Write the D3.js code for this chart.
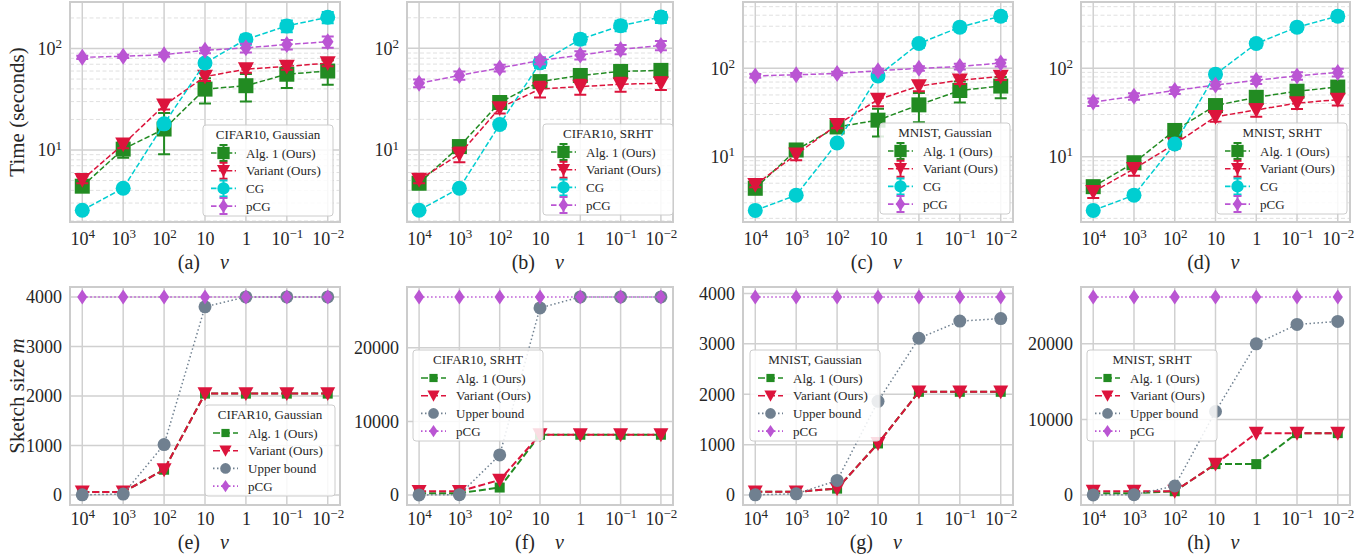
<!DOCTYPE html>
<html><head><meta charset="utf-8">
<script src="https://cdn.jsdelivr.net/npm/d3@7"></script>
<style>body{margin:0;background:#fff}svg{display:block}text{font-family:"Liberation Serif","Times New Roman",serif;fill:#262626}</style>
</head><body><svg id="c" width="1357" height="557"></svg>
<script>
// ---------- data ----------
const nuTickBase = ["10","10","10","10","1","10","10"];
const nuTickExp  = ["4","3","2","","","\u22121","\u22122"];
const timeNames   = ["Alg. 1 (Ours)","Variant (Ours)","CG","pCG"];
const sketchNames = ["Alg. 1 (Ours)","Variant (Ours)","Upper bound","pCG"];
const panelTitles = ["CIFAR10, Gaussian","CIFAR10, SRHT","MNIST, Gaussian","MNIST, SRHT"];
const capsTop = ["(a)","(b)","(c)","(d)"];
const capsBottom = ["(e)","(f)","(g)","(h)"];

// (a) CIFAR10, Gaussian - time (s)
const tA_alg1 = [4.4, 10.2, 16.1, 39.8, 43, 55.8, 60];
const tA_alg1Err = [0.5, 1.8, 7, 11, 13, 15, 16];
const tA_var = [5.1, 11.4, 27.5, 52.9, 62.6, 66.6, 71.9];
const tA_varErr = [0.4, 1.0, 2.5, 5, 5, 5, 5];
const tA_cg = [2.55, 4.2, 18.1, 72, 123, 167, 203];
const tA_cgErr = [0.1, 0.2, 1.5, 6, 14, 22, 26];
const tA_pcg = [81.9, 83.8, 87, 96, 101.5, 109.6, 116.6];
const tA_pcgErr = [3, 3, 4, 6, 10, 12, 15];
// (b) CIFAR10, SRHT
const tB_alg1 = [4.7, 10.8, 29.3, 47.1, 54.1, 59.3, 60.7];
const tB_alg1Err = [0.4, 1.0, 3, 5, 6, 6, 6];
const tB_var = [5.1, 9.05, 25.9, 39.8, 42, 44.3, 45.4];
const tB_varErr = [0.4, 1.5, 3, 7, 7, 7, 6.5];
const tB_cg = [2.55, 4.2, 17.8, 72, 123, 167, 203];
const tB_cgErr = [0.1, 0.2, 1.5, 8, 14, 20, 25];
const tB_pcg = [45.4, 54.1, 64.1, 75.9, 85.8, 97.7, 107];
const tB_pcgErr = [4, 5, 5, 6, 8, 10, 11];
// (c) MNIST, Gaussian
const tC_alg1 = [4.38, 11.9, 21.7, 25.9, 38.6, 56.1, 63];
const tC_alg1Err = [0.3, 1.2, 2.5, 9, 14, 15, 17];
const tC_var = [4.79, 10.6, 23, 44.2, 63, 73.3, 80.8];
const tC_varErr = [0.3, 1.5, 2, 7, 8, 7, 7];
const tC_cg = [2.46, 3.66, 14.3, 82.2, 191, 293, 390];
const tC_cgErr = [0.1, 0.2, 1.2, 8, 20, 30, 45];
const tC_pcg = [82.2, 84.5, 87.5, 94, 100, 105, 115];
const tC_pcgErr = [4, 4, 4, 5, 6, 8, 10];
// (d) MNIST, SRHT
const tD_alg1 = [4.57, 8.53, 19.8, 37.9, 47, 55.1, 61.4];
const tD_alg1Err = [0.4, 0.8, 2, 4, 5, 5, 6];
const tD_var = [4.0, 7.27, 13.9, 28.3, 33.8, 40.4, 44.2];
const tD_varErr = [0.6, 1.2, 1.5, 3.5, 5.5, 5.7, 6.3];
const tD_cg = [2.46, 3.66, 13.9, 86, 191, 293, 390];
const tD_cgErr = [0.1, 0.2, 1.0, 8, 20, 30, 45];
const tD_pcg = [41.5, 48.2, 56.1, 64.7, 73.3, 82.2, 90];
const tD_pcgErr = [4, 4, 5, 6, 7, 8, 9];

// (e)-(h) sketch size m
const mE_alg1 = [64, 64, 512, 2048, 2048, 2048, 2048];
const mE_var  = [64, 64, 512, 2048, 2048, 2048, 2048];
const mE_ub   = [5, 20, 1020, 3800, 4000, 4000, 4000];
const mE_pcg  = [4000, 4000, 4000, 4000, 4000, 4000, 4000];
const mF_alg1 = [256, 256, 1024, 8192, 8192, 8192, 8192];
const mF_var  = [512, 512, 2048, 8192, 8192, 8192, 8192];
const mF_ub   = [20, 60, 5450, 25400, 26900, 26900, 26900];
const mF_pcg  = [26900, 26900, 26900, 26900, 26900, 26900, 26900];
const mG_alg1 = [64, 64, 128, 1024, 2048, 2048, 2048];
const mG_var  = [64, 64, 128, 1024, 2048, 2048, 2048];
const mG_ub   = [5, 25, 290, 1860, 3110, 3450, 3500];
const mG_pcg  = [3930, 3930, 3930, 3930, 3930, 3930, 3930];
const mH_alg1 = [256, 256, 512, 4096, 4096, 8192, 8192];
const mH_var  = [512, 512, 512, 4096, 8192, 8192, 8192];
const mH_ub   = [20, 50, 1200, 11050, 20000, 22560, 22960];
const mH_pcg  = [26200, 26200, 26200, 26200, 26200, 26200, 26200];
const yTicksSmall = [0, 1000, 2000, 3000, 4000];
const yTicksLarge = [0, 10000, 20000];

// ---------- layout / style ----------
const cols = [[70,340],[407,673],[743,1013],[1081,1350]];
const rowTop = [2,222], rowBot = [287,505];
const legTop = [[203,125],[543,124],[880,123],[1217,123]];
const legBot = [[205,405],[413,350],[750,350],[1087,350]];
const colors = ["#228B22","#DC143C","#00CED1","#BA55D3"];
const colorsB = ["#228B22","#DC143C","#708090","#BA55D3"];
const GRID = "#d0d0d0";

const svg = d3.select("#c");

function markerPath(type, s){
  const h = s/2;
  if(type==="square") return `M${-h},${-h}h${s}v${s}h${-s}Z`;
  if(type==="tri") return `M${-h},${-h*0.85}L${h},${-h*0.85}L0,${h*1.0}Z`;
  if(type==="circle") return `M${h},0A${h},${h} 0 1,1 ${-h},0A${h},${h} 0 1,1 ${h},0Z`;
  if(type==="diamond"){ const w = s*0.34; return `M0,${-h}L${w},0L0,${h}L${-w},0Z`; }
}
const mTypes = ["square","tri","circle","diamond"];
const mSizeTop = [15,16,15,17];
const mSizeBot = [10,15,13,15];

function addXAxis(g, x, yPos, pad){
  const ax = g.append("g").attr("transform",`translate(0,${yPos})`)
    .call(d3.axisBottom(x).tickValues(d3.range(7)).tickSize(0).tickPadding(pad)
      .tickFormat(i => nuTickBase[i]));
  ax.select(".domain").remove();
  ax.selectAll(".tick text").style("font-size","18px").attr("fill","#262626")
    .each(function(i){
      if(nuTickExp[i]) d3.select(this).append("tspan").attr("dy","-0.5em")
        .style("font-size","13px").text(nuTickExp[i]);
    });
}

function caption(cx, y, lab){
  svg.append("text").attr("x",cx-5).attr("y",y).attr("text-anchor","end")
    .style("font-size","20px").text(lab);
  svg.append("text").attr("x",cx+15).attr("y",y).attr("text-anchor","start")
    .style("font-size","20px").style("font-style","italic").text("\u03bd");
}

function legend(x0, y0, title, names, cols_, dashes, sizes, withErr){
  const lg = svg.append("g").attr("transform",`translate(${x0},${y0})`);
  lg.append("rect").attr("width",130).attr("height",91).attr("rx",3)
    .attr("fill","#fff").attr("fill-opacity",0.85).attr("stroke","#cccccc").attr("stroke-width",1);
  lg.append("text").attr("x",65).attr("y",14).attr("text-anchor","middle")
    .style("font-size","13px").text(title);
  names.forEach((n,k)=>{
    const cy = 28 + k*17.7;
    lg.append("line").attr("x1",8).attr("x2",33).attr("y1",cy).attr("y2",cy)
      .attr("stroke",cols_[k]).attr("stroke-width",1.6).attr("stroke-dasharray",dashes[k]);
    if(withErr){
      lg.append("path").attr("d",`M20.5,${cy-8}V${cy+8}M16.5,${cy-8}H24.5M16.5,${cy+8}H24.5`)
        .attr("stroke",cols_[k]).attr("stroke-width",2).attr("fill","none");
    }
    lg.append("path").attr("transform",`translate(20.5,${cy})`)
      .attr("d",markerPath(mTypes[k], sizes[k]*0.82)).attr("fill",cols_[k]);
    lg.append("text").attr("x",43).attr("y",cy+4.5).style("font-size","13px").text(n);
  });
}

// ---------- top row (time, log scale) ----------
const topData = [
  [[tA_alg1,tA_alg1Err],[tA_var,tA_varErr],[tA_cg,tA_cgErr],[tA_pcg,tA_pcgErr]],
  [[tB_alg1,tB_alg1Err],[tB_var,tB_varErr],[tB_cg,tB_cgErr],[tB_pcg,tB_pcgErr]],
  [[tC_alg1,tC_alg1Err],[tC_var,tC_varErr],[tC_cg,tC_cgErr],[tC_pcg,tC_pcgErr]],
  [[tD_alg1,tD_alg1Err],[tD_var,tD_varErr],[tD_cg,tD_cgErr],[tD_pcg,tD_pcgErr]]
];

topData.forEach((series, p)=>{
  const [x0,x1] = cols[p], [y0,y1] = rowTop;
  const x = d3.scaleLinear().domain([-0.3,6.3]).range([x0,x1]);
  let lo = d3.min(series, s => d3.min(s[0].map((v,i)=>v - s[1][i])));
  let hi = d3.max(series, s => d3.max(s[0].map((v,i)=>v + s[1][i])));
  const l0 = Math.log10(lo), l1 = Math.log10(hi), pad = 0.05*(l1-l0);
  const y = d3.scaleLog().domain([10**(l0-pad), 10**(l1+pad)]).range([y1,y0]);
  const g = svg.append("g");
  // minor grid
  const minor = [];
  for(let k=Math.floor(l0-pad); k<=Math.ceil(l1+pad); k++)
    for(let m=2;m<=9;m++){ const v=m*10**k; if(v>y.domain()[0]&&v<y.domain()[1]) minor.push(v); }
  g.selectAll(".mn").data(minor).join("line").attr("x1",x0).attr("x2",x1)
    .attr("y1",d=>y(d)).attr("y2",d=>y(d)).attr("stroke","#dcdcdc").attr("stroke-width",0.9)
    .attr("stroke-dasharray","4,2.5");
  const major = [1,10,100,1000].filter(v=>v>y.domain()[0]&&v<y.domain()[1]);
  g.selectAll(".mj").data(major).join("line").attr("x1",x0).attr("x2",x1)
    .attr("y1",d=>y(d)).attr("y2",d=>y(d)).attr("stroke",GRID).attr("stroke-width",1.5);
  g.selectAll(".vx").data(d3.range(7)).join("line").attr("x1",d=>x(d)).attr("x2",d=>x(d))
    .attr("y1",y0).attr("y2",y1).attr("stroke",GRID).attr("stroke-width",1.5);
  g.append("rect").attr("x",x0).attr("y",y0).attr("width",x1-x0).attr("height",y1-y0)
    .attr("fill","none").attr("stroke","#cccccc").attr("stroke-width",2);
  // series
  series.forEach((s,k)=>{
    const [vals, errs] = s;
    g.append("path").datum(vals)
      .attr("d", d3.line().x((d,i)=>x(i)).y(d=>y(d)))
      .attr("fill","none").attr("stroke",colors[k]).attr("stroke-width",1.5)
      .attr("stroke-dasharray","5.5,2.4");
    g.selectAll(null).data(vals).join("path")
      .attr("d",(d,i)=>{ const xx=x(i), a=y(d+errs[i]), b=y(Math.max(d-errs[i],1e-3));
        return `M${xx},${a}V${b}M${xx-6},${a}H${xx+6}M${xx-6},${b}H${xx+6}`; })
      .attr("stroke",colors[k]).attr("stroke-width",2).attr("fill","none");
    g.selectAll(null).data(vals).join("path")
      .attr("transform",(d,i)=>`translate(${x(i)},${y(d)})`)
      .attr("d",markerPath(mTypes[k], mSizeTop[k])).attr("fill",colors[k]);
  });
  // axes
  addXAxis(g, x, y1, 10);
  const ay = g.append("g").attr("transform",`translate(${x0},0)`)
    .call(d3.axisLeft(y).tickValues(major.filter(v=>v>=10)).tickSize(0).tickPadding(8).tickFormat(()=> "10"));
  ay.select(".domain").remove();
  ay.selectAll(".tick text").style("font-size","18px").attr("fill","#262626")
    .each(function(v){ d3.select(this).append("tspan").attr("dy","-0.5em").style("font-size","13px")
      .text(String(Math.round(Math.log10(v)))); });
  caption((x0+x1)/2, 269, capsTop[p]);
  legend(legTop[p][0], legTop[p][1], panelTitles[p], timeNames, colors,
    ["5.5,2.4","5.5,2.4","5.5,2.4","5.5,2.4"], mSizeTop, true);
});

// ---------- bottom row (sketch size, linear) ----------
const botData = [
  [mE_alg1, mE_var, mE_ub, mE_pcg],
  [mF_alg1, mF_var, mF_ub, mF_pcg],
  [mG_alg1, mG_var, mG_ub, mG_pcg],
  [mH_alg1, mH_var, mH_ub, mH_pcg]
];
const botTicks = [yTicksSmall, yTicksLarge, yTicksSmall, yTicksLarge];
const botDash = ["7,3","7,3","1.5,2.5","1.5,2.5"];

botData.forEach((series,p)=>{
  const [x0,x1] = cols[p], [y0,y1] = rowBot;
  const x = d3.scaleLinear().domain([-0.3,6.3]).range([x0,x1]);
  const M = d3.max(series, s=>d3.max(s));
  const y = d3.scaleLinear().domain([-0.05*M, 1.05*M]).range([y1,y0]);
  const g = svg.append("g");
  g.selectAll(".hy").data(botTicks[p]).join("line").attr("x1",x0).attr("x2",x1)
    .attr("y1",d=>y(d)).attr("y2",d=>y(d)).attr("stroke",GRID).attr("stroke-width",1.5);
  g.selectAll(".vx").data(d3.range(7)).join("line").attr("x1",d=>x(d)).attr("x2",d=>x(d))
    .attr("y1",y0).attr("y2",y1).attr("stroke",GRID).attr("stroke-width",1.5);
  g.append("rect").attr("x",x0).attr("y",y0).attr("width",x1-x0).attr("height",y1-y0)
    .attr("fill","none").attr("stroke","#cccccc").attr("stroke-width",2);
  series.forEach((vals,k)=>{
    g.append("path").datum(vals)
      .attr("d", d3.line().x((d,i)=>x(i)).y(d=>y(d)))
      .attr("fill","none").attr("stroke",colorsB[k]).attr("stroke-width",k<2?2:1.5)
      .attr("stroke-dasharray",botDash[k]);
    g.selectAll(null).data(vals).join("path")
      .attr("transform",(d,i)=>`translate(${x(i)},${y(d)})`)
      .attr("d",markerPath(mTypes[k], mSizeBot[k])).attr("fill",colorsB[k]);
  });
  addXAxis(g, x, y1, 7);
  const ay = g.append("g").attr("transform",`translate(${x0},0)`)
    .call(d3.axisLeft(y).tickValues(botTicks[p]).tickSize(0).tickPadding(8).tickFormat(d3.format("d")));
  ay.select(".domain").remove();
  ay.selectAll(".tick text").style("font-size","18px").attr("fill","#262626");
  caption((x0+x1)/2, 549, capsBottom[p]);
  legend(legBot[p][0], legBot[p][1], panelTitles[p], sketchNames, colorsB, botDash, mSizeBot, false);
});

// y labels
svg.append("text").attr("transform",`translate(24,${(rowTop[0]+rowTop[1])/2}) rotate(-90)`)
  .attr("text-anchor","middle").style("font-size","21px").text("Time (seconds)");
const sl = svg.append("text").attr("transform",`translate(24,${(rowBot[0]+rowBot[1])/2}) rotate(-90)`)
  .attr("text-anchor","middle").style("font-size","21px");
sl.append("tspan").text("Sketch size ");
sl.append("tspan").style("font-style","italic").text("m");
</script></body></html>
